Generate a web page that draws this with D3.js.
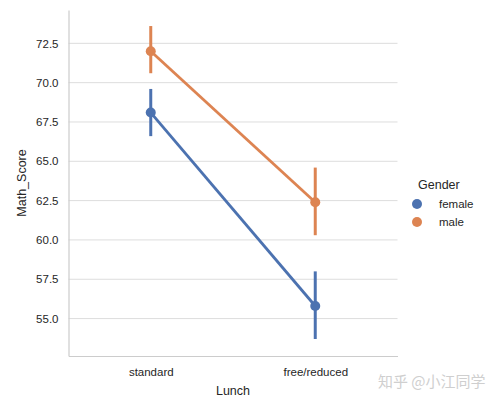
<!DOCTYPE html>
<html>
<head>
<meta charset="utf-8">
<script src="https://cdn.jsdelivr.net/npm/d3@7"></script>
<style>
  body { margin: 0; background: #fff; }
  text { font-family: "Liberation Sans", Arial, sans-serif; fill: #262626; }
</style>
</head>
<body>
<script>
// categories and series
var lunch = ["standard", "free/reduced"];
var genders = ["female", "male"];
var femaleMean = [68.1, 55.8];
var femaleLow = [66.6, 53.7];
var femaleHigh = [69.6, 58.0];
var maleMean = [72.0, 62.4];
var maleLow = [70.6, 60.3];
var maleHigh = [73.6, 64.6];
var yTicks = [55.0, 57.5, 60.0, 62.5, 65.0, 67.5, 70.0, 72.5];

var colors = { female: "#4c72b0", male: "#dd8452" };

var width = 496, height = 403;
var plotLeft = 68.5, plotRight = 397.5, plotTop = 10, plotBottom = 356;

var svg = d3.select("body").append("svg")
    .attr("width", width)
    .attr("height", height);

var x = d3.scalePoint()
    .domain(lunch)
    .range([plotLeft, plotRight])
    .padding(0.5);

var y = d3.scaleLinear()
    .domain([52.62, 74.62])
    .range([plotBottom, plotTop]);

// grid
svg.append("g")
  .selectAll("line")
  .data(yTicks)
  .enter()
  .append("line")
  .attr("x1", plotLeft)
  .attr("x2", plotRight)
  .attr("y1", function(d) { return y(d); })
  .attr("y2", function(d) { return y(d); })
  .attr("stroke", "#dddddd")
  .attr("stroke-width", 1);

// axes
var yAxis = svg.append("g")
  .attr("transform", "translate(" + plotLeft + ",0)")
  .call(d3.axisLeft(y).tickValues(yTicks).tickFormat(d3.format(".1f")).tickSize(0).tickPadding(10));
yAxis.select(".domain").attr("stroke", "#cccccc").attr("stroke-width", 1.2);
yAxis.selectAll("text").style("font-size", "11.5px").attr("fill", "#262626");

var xAxis = svg.append("g")
  .attr("transform", "translate(0," + plotBottom + ")")
  .call(d3.axisBottom(x).tickSize(0).tickPadding(12));
xAxis.select(".domain").attr("stroke", "#cccccc").attr("stroke-width", 1.2);
xAxis.selectAll("text").style("font-size", "11.5px").attr("fill", "#262626");

// axis labels
svg.append("text")
  .attr("x", (plotLeft + plotRight) / 2)
  .attr("y", 395)
  .attr("text-anchor", "middle")
  .style("font-size", "12.5px")
  .text("Lunch");

svg.append("text")
  .attr("transform", "translate(26," + ((plotTop + plotBottom) / 2) + ") rotate(-90)")
  .attr("text-anchor", "middle")
  .style("font-size", "12.5px")
  .text("Math_Score");

// series
var series = [
  { name: "female", mean: femaleMean, low: femaleLow, high: femaleHigh },
  { name: "male", mean: maleMean, low: maleLow, high: maleHigh }
];

var line = d3.line()
  .x(function(d) { return x(d.cat); })
  .y(function(d) { return y(d.v); });

series.forEach(function(s) {
  var pts = lunch.map(function(c, i) {
    return { cat: c, v: s.mean[i], lo: s.low[i], hi: s.high[i] };
  });
  var g = svg.append("g");
  g.selectAll(".err")
    .data(pts)
    .enter()
    .append("line")
    .attr("x1", function(d) { return x(d.cat); })
    .attr("x2", function(d) { return x(d.cat); })
    .attr("y1", function(d) { return y(d.lo); })
    .attr("y2", function(d) { return y(d.hi); })
    .attr("stroke", colors[s.name])
    .attr("stroke-width", 3);
  g.append("path")
    .datum(pts)
    .attr("d", line)
    .attr("fill", "none")
    .attr("stroke", colors[s.name])
    .attr("stroke-width", 2.8);
  g.selectAll("circle")
    .data(pts)
    .enter()
    .append("circle")
    .attr("cx", function(d) { return x(d.cat); })
    .attr("cy", function(d) { return y(d.v); })
    .attr("r", 5)
    .attr("fill", colors[s.name]);
});

// legend
var legend = svg.append("g");
legend.append("text")
  .attr("x", 418)
  .attr("y", 189)
  .attr("text-anchor", "start")
  .style("font-size", "12.5px")
  .text("Gender");

var items = legend.selectAll(".item")
  .data(genders)
  .enter()
  .append("g")
  .attr("transform", function(d, i) { return "translate(417," + (204 + i * 18) + ")"; });
items.append("circle")
  .attr("r", 5)
  .attr("fill", function(d) { return colors[d]; });
items.append("text")
  .attr("x", 22)
  .attr("y", 4)
  .style("font-size", "11.5px")
  .text(function(d) { return d; });

// watermark
svg.append("text")
  .attr("x", 378)
  .attr("y", 387)
  .style("font-family", "'Noto Sans CJK SC', sans-serif")
  .style("font-size", "15px")
  .style("fill", "#cfcfcf")
  .text("知乎 @小江同学");
</script>
</body>
</html>
